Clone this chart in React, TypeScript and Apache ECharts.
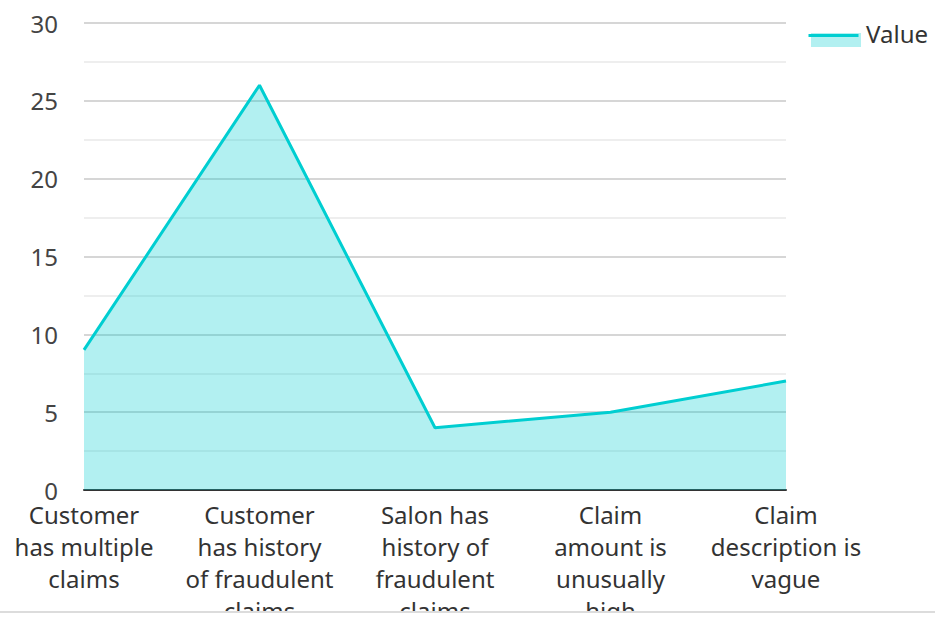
import React, { useEffect, useRef } from "react";
import * as echarts from "echarts";

const categories = [
  "Customer\nhas multiple\nclaims",
  "Customer\nhas history\nof fraudulent\nclaims",
  "Salon has\nhistory of\nfraudulent\nclaims",
  "Claim\namount is\nunusually\nhigh",
  "Claim\ndescription is\nvague",
];
const values = [9, 26, 4, 5, 7];
const seriesName = "Value";

export default function App() {
  const ref = useRef<HTMLDivElement>(null);
  useEffect(() => {
    if (!ref.current) return;
    const chart = echarts.init(ref.current, undefined, { renderer: "svg" });
    const font = "'Noto Sans', sans-serif";
    chart.setOption({
      animation: false,
      textStyle: { fontFamily: font },
      legend: {
        data: [seriesName],
        right: 2,
        top: 16,
        itemWidth: 50,
        itemHeight: 14,
        itemGap: 9,
        icon: "rect",
        itemStyle: { color: "rgba(0,0,0,0)" },
        textStyle: { fontSize: 24, color: "#333", fontFamily: font },
      },
      graphic: [
        {
          type: "rect",
          right: 74,
          top: 33,
          shape: { width: 50, height: 14 },
          style: { fill: "rgba(0,206,209,0.3)" },
        },
        {
          type: "line",
          right: 74,
          top: 33,
          shape: { x1: 0, y1: 0, x2: 50, y2: 0 },
          style: { stroke: "#00CED1", lineWidth: 3 },
        },
      ],
      grid: { left: 84, right: 149, top: 23, bottom: 121, containLabel: false, outerBoundsMode: "none" },
      xAxis: {
        type: "category",
        data: categories,
        boundaryGap: false,
        axisLine: { lineStyle: { color: "#333", width: 2 } },
        axisTick: { show: false },
        axisLabel: {
          interval: 0,
          fontSize: 24,
          lineHeight: 32,
          color: "#333",
          margin: 8,
          fontFamily: font,
        },
        splitLine: { show: false },
      },
      yAxis: {
        type: "value",
        min: 0,
        max: 30,
        interval: 5,
        axisLine: { show: false },
        axisTick: { show: false },
        axisLabel: { fontSize: 24, color: "#444", margin: 26, fontFamily: font },
        splitLine: { lineStyle: { color: "#c8c8c8", width: 1.5 } },
        minorTick: { show: false, splitNumber: 2 },
        minorSplitLine: { show: true, lineStyle: { color: "#e8e8e8", width: 1.5 } },
      },
      series: [
        {
          name: seriesName,
          type: "line",
          data: values,
          symbol: "none",
          lineStyle: { color: "#00CED1", width: 3 },
          itemStyle: { color: "#00CED1" },
          areaStyle: { color: "#00CED1", opacity: 0.3 },
        },
      ],
    });
    return () => chart.dispose();
  }, []);
  return (
    <div style={{ position: "absolute", left: 0, top: 0, width: 935, height: 617, background: "#fff" }}>
      <div ref={ref} style={{ width: 935, height: 611, overflow: "hidden" }} />
      <div style={{ position: "absolute", left: 0, top: 611, width: 935, height: 2, background: "#dcdcdc" }} />
    </div>
  );
}
